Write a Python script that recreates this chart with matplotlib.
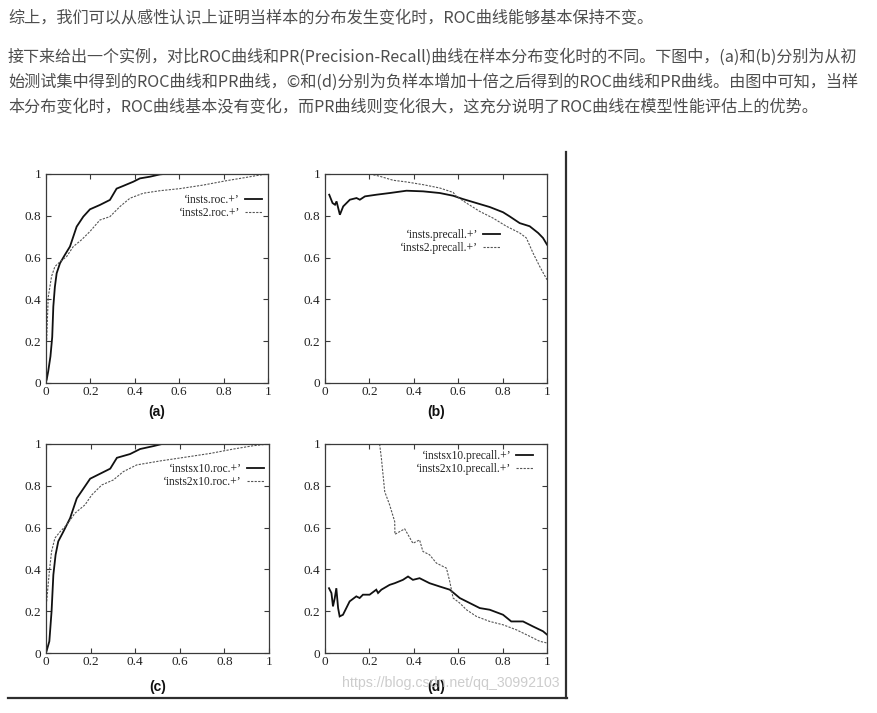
import matplotlib
matplotlib.use("Agg")
import matplotlib.pyplot as plt
from matplotlib.lines import Line2D
import numpy as np

# ---------------- data ----------------
tick_vals = [0, 0.2, 0.4, 0.6, 0.8, 1.0]
tick_labels = ['0', '0.2', '0.4', '0.6', '0.8', '1']

# (a) ROC, original test set
a_roc1_x = [0.003, 0.01, 0.02, 0.028, 0.033, 0.04, 0.048, 0.063, 0.085, 0.108, 0.138, 0.168, 0.198,
            0.243, 0.288, 0.318, 0.348, 0.393, 0.423, 0.468, 0.513, 0.53, 1.0]
a_roc1_y = [0.016, 0.056, 0.127, 0.22, 0.366, 0.46, 0.525, 0.573, 0.613, 0.653, 0.748, 0.796, 0.831,
            0.852, 0.876, 0.93, 0.943, 0.963, 0.979, 0.987, 0.998, 1.0, 1.0]
a_roc2_x = [0.003, 0.01, 0.025, 0.04, 0.063, 0.093, 0.123, 0.16, 0.198, 0.243, 0.288, 0.333, 0.378,
            0.438, 0.513, 0.603, 0.708, 0.813, 0.903, 0.963, 1.0]
a_roc2_y = [0.207, 0.41, 0.51, 0.557, 0.58, 0.605, 0.653, 0.685, 0.725, 0.78, 0.796, 0.844, 0.884,
            0.908, 0.92, 0.93, 0.947, 0.968, 0.984, 0.995, 1.0]

# (b) PR, original test set
b_pr1_x = [0.019, 0.034, 0.045, 0.052, 0.067, 0.082, 0.112, 0.142, 0.157, 0.18, 0.232, 0.292, 0.367,
           0.442, 0.517, 0.577, 0.622, 0.682, 0.742, 0.802, 0.832, 0.877, 0.922, 0.96, 0.982, 1.0]
b_pr1_y = [0.901, 0.861, 0.853, 0.869, 0.805, 0.845, 0.877, 0.885, 0.877, 0.893, 0.901, 0.909, 0.92,
           0.917, 0.909, 0.896, 0.88, 0.861, 0.842, 0.817, 0.797, 0.765, 0.75, 0.718, 0.694, 0.662]
b_pr2_x = [0.202, 0.247, 0.307, 0.367, 0.442, 0.517, 0.577, 0.592, 0.637, 0.697, 0.757, 0.817, 0.877,
           0.907, 0.937, 0.967, 1.0]
b_pr2_y = [1.0, 0.989, 0.97, 0.962, 0.949, 0.933, 0.912, 0.893, 0.861, 0.821, 0.789, 0.75, 0.718,
           0.694, 0.622, 0.558, 0.494]

# (c) ROC, negatives x10
c_roc1_x = [0.003, 0.015, 0.025, 0.033, 0.043, 0.055, 0.078, 0.108, 0.138, 0.168, 0.198, 0.243, 0.288,
            0.318, 0.377, 0.422, 0.482, 0.52, 1.0]
c_roc1_y = [0.011, 0.056, 0.2, 0.374, 0.47, 0.534, 0.581, 0.645, 0.74, 0.787, 0.834, 0.858, 0.882,
            0.934, 0.952, 0.976, 0.99, 1.0, 1.0]
c_roc2_x = [0.003, 0.015, 0.025, 0.04, 0.063, 0.093, 0.13, 0.175, 0.205, 0.25, 0.302, 0.347, 0.407,
            0.512, 0.632, 0.737, 0.841, 0.931, 1.0]
c_roc2_y = [0.247, 0.39, 0.486, 0.55, 0.58, 0.613, 0.669, 0.709, 0.756, 0.804, 0.828, 0.868, 0.9,
            0.919, 0.938, 0.955, 0.976, 0.992, 1.0]

# (d) PR, negatives x10
d_pr1_x = [0.018, 0.029, 0.036, 0.044, 0.051, 0.059, 0.066, 0.081, 0.111, 0.141, 0.156, 0.171, 0.201,
           0.231, 0.239, 0.254, 0.291, 0.314, 0.351, 0.374, 0.396, 0.426, 0.471, 0.517, 0.562, 0.607,
           0.652, 0.697, 0.742, 0.802, 0.839, 0.892, 0.937, 0.982, 1.0]
d_pr1_y = [0.31, 0.287, 0.223, 0.263, 0.31, 0.215, 0.175, 0.183, 0.247, 0.271, 0.263, 0.279, 0.279,
           0.303, 0.287, 0.303, 0.326, 0.334, 0.35, 0.366, 0.35, 0.358, 0.334, 0.318, 0.303, 0.263,
           0.239, 0.215, 0.207, 0.183, 0.151, 0.151, 0.127, 0.104, 0.088]
d_pr2_x = [0.246, 0.254, 0.269, 0.291, 0.314, 0.315, 0.359, 0.396, 0.426, 0.441, 0.471, 0.502, 0.547,
           0.562, 0.577, 0.607, 0.637, 0.682, 0.742, 0.802, 0.862, 0.922, 0.967, 1.0]
d_pr2_y = [1.0, 0.932, 0.772, 0.709, 0.629, 0.568, 0.594, 0.525, 0.541, 0.486, 0.47, 0.43, 0.406,
           0.342, 0.263, 0.239, 0.207, 0.175, 0.151, 0.135, 0.111, 0.08, 0.056, 0.048]

panels = [
    dict(name='(a)', s1=(a_roc1_x, a_roc1_y), s2=(a_roc2_x, a_roc2_y),
         labels=["\u2018insts.roc.+\u2019", "\u2018insts2.roc.+\u2019"]),
    dict(name='(b)', s1=(b_pr1_x, b_pr1_y), s2=(b_pr2_x, b_pr2_y),
         labels=["\u2018insts.precall.+\u2019", "\u2018insts2.precall.+\u2019"]),
    dict(name='(c)', s1=(c_roc1_x, c_roc1_y), s2=(c_roc2_x, c_roc2_y),
         labels=["\u2018instsx10.roc.+\u2019", "\u2018insts2x10.roc.+\u2019"]),
    dict(name='(d)', s1=(d_pr1_x, d_pr1_y), s2=(d_pr2_x, d_pr2_y),
         labels=["\u2018instsx10.precall.+\u2019", "\u2018insts2x10.precall.+\u2019"]),
]

text_lines = [
    "综上，我们可以从感性认识上证明当样本的分布发生变化时，ROC曲线能够基本保持不变。",
    "接下来给出一个实例，对比ROC曲线和PR(Precision-Recall)曲线在样本分布变化时的不同。下图中，(a)和(b)分别为从初",
    "始测试集中得到的ROC曲线和PR曲线，©和(d)分别为负样本增加十倍之后得到的ROC曲线和PR曲线。由图中可知，当样",
    "本分布变化时，ROC曲线基本没有变化，而PR曲线则变化很大，这充分说明了ROC曲线在模型性能评估上的优势。",
]
watermark = "https://blog.csdn.net/qq_30992103"

# ---------------- layout ----------------
W, H = 877, 713
fig = plt.figure(figsize=(W / 100, H / 100), dpi=100)
fig.patch.set_facecolor('white')

def fx(px):
    return px / W

def fy(py):
    return 1 - py / H

# axes boxes in pixels: (left, top, right, bottom)
boxes = [(46, 174, 268, 383), (325, 174, 547, 383), (46, 444, 269, 653), (325, 444, 547, 653)]
# legend anchors (axes fraction): right end of sample, top of first row
leg_anchor = [(0.973, 0.905), (0.788, 0.737), (0.977, 0.91), (0.937, 0.972)]
label_off = [-0.14, -0.14, -0.163, -0.163]

serif = 'Liberation Serif'
frame_col = '#3a3a3a'

for p, box, anc, loff in zip(panels, boxes, leg_anchor, label_off):
    l, t, r, b = box
    ax = fig.add_axes([fx(l), fy(b), (r - l) / W, (b - t) / H])
    ax.plot(*p['s1'], color='#111111', lw=1.3, solid_joinstyle='miter', label=p['labels'][0])
    ax.plot(*p['s2'], color='#555555', lw=0.8, linestyle=(0, (2.0, 1.2)), label=p['labels'][1])
    ax.set_xlim(0, 1)
    ax.set_ylim(0, 1)
    ax.set_xticks(tick_vals)
    ax.set_xticklabels(tick_labels)
    ax.set_yticks(tick_vals)
    ax.set_yticklabels(tick_labels)
    ax.tick_params(direction='in', top=True, right=True, length=3.5, width=0.8,
                   color=frame_col, labelsize=9.5, labelcolor='#222222')
    ax.tick_params(axis='x', pad=2.5)
    ax.tick_params(axis='y', pad=3.5)
    for lab in ax.get_xticklabels() + ax.get_yticklabels():
        lab.set_fontfamily(serif)
    for sp in ax.spines.values():
        sp.set_color(frame_col)
        sp.set_linewidth(0.9)
    leg = ax.legend(loc='upper right', bbox_to_anchor=anc, frameon=False, markerfirst=False,
                    handlelength=1.45, handletextpad=0.45, borderpad=0, borderaxespad=0,
                    labelspacing=0.12, prop={'family': serif, 'size': 8.3})
    for txt in leg.get_texts():
        txt.set_color('#222222')
    ax.text(0.5, loff, p['name'], transform=ax.transAxes, ha='center', va='center',
            fontsize=10, fontweight='bold', family='Liberation Sans', color='#111111')

# page-like border of the embedded image (right and bottom edge)
fig.add_artist(Line2D([fx(566), fx(566)], [fy(152), fy(698)], transform=fig.transFigure,
                      color='#2e2e2e', lw=1.6))
fig.add_artist(Line2D([fx(8), fx(566.8)], [fy(698), fy(698)], transform=fig.transFigure,
                      color='#2e2e2e', lw=1.6))

# paragraph text
cjk = ['Noto Sans CJK SC', 'DejaVu Sans']
line_y = [19, 57, 82, 107]
line_end = [655, 862, 862, 818]
texts = []
for s, yy in zip(text_lines, line_y):
    texts.append(fig.text(fx(8), fy(yy), s, ha='left', va='center', fontsize=11.5,
                          family=cjk, color='#4d4d4d'))
wm = fig.text(fx(342), fy(683), watermark, ha='left', va='center', fontsize=9.5,
              family='Liberation Sans', color='#c4c4c4', alpha=0.85)

fig.canvas.draw()
renderer = fig.canvas.get_renderer()
for t, end in zip(texts, line_end):
    w = t.get_window_extent(renderer).width
    t.set_fontsize(t.get_fontsize() * (end - 8) / w)
w = wm.get_window_extent(renderer).width
wm.set_fontsize(wm.get_fontsize() * (560 - 342) / w)

fig.savefig('out.png', dpi=100, facecolor='white')
